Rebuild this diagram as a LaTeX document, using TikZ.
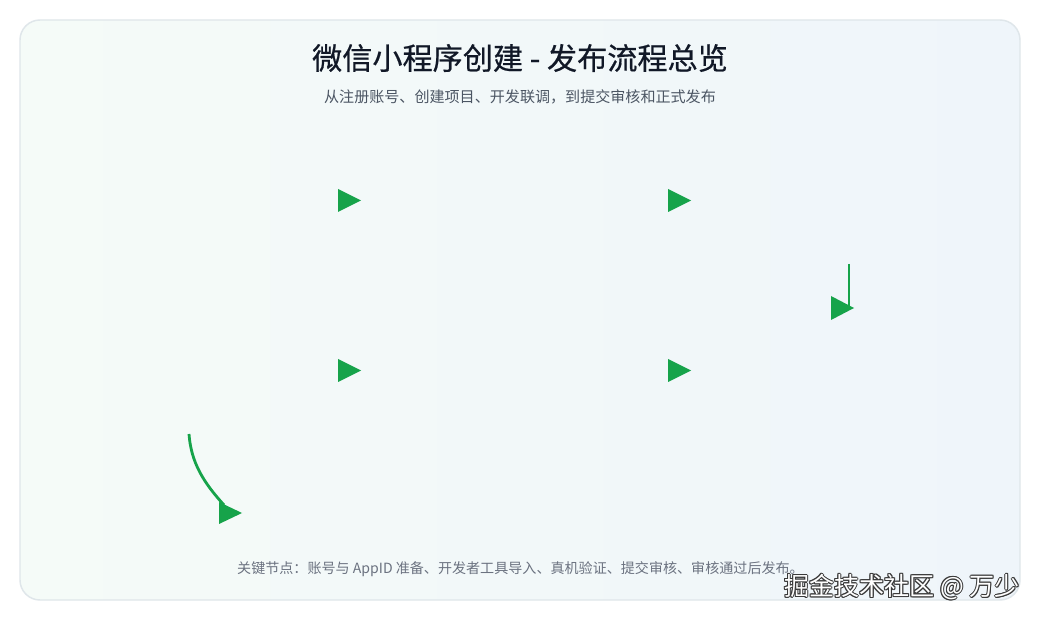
\documentclass[tikz,border=0pt]{standalone}
\usepackage{fontspec}
\newfontfamily\cjk{Noto Sans CJK SC}
\newfontfamily\cjkb[FakeBold=0.6]{Noto Sans CJK SC}
\definecolor{cardL}{HTML}{F5FBF8}
\definecolor{cardR}{HTML}{EFF5FA}
\definecolor{cardB}{HTML}{DFE6EA}
\definecolor{titleC}{HTML}{111827}
\definecolor{subC}{HTML}{4B5563}
\definecolor{footC}{HTML}{6B7280}
\definecolor{grn}{HTML}{16A34A}
\definecolor{wmC}{HTML}{3A3A3A}
\tikzset{
  x=0.75pt, y=-0.75pt,
  head/.style={fill=grn, draw=none},
  wire/.style={draw=grn, line width=2.8pt*0.75},
  wm/.style={font=\cjk\fontsize{18.8}{22}\selectfont, anchor=east, inner sep=0pt},
}
\begin{document}
\begin{tikzpicture}
\useasboundingbox (0,0) rectangle (1040,620);
\fill[white] (0,0) rectangle (1040,620);
\shade[left color=cardL, right color=cardR, rounded corners=15pt] (20,20) rectangle (1020,600);
\draw[cardB, line width=1.1pt, rounded corners=15pt] (20,20) rectangle (1020,600);

\node[font=\cjkb\fontsize{22.6}{27}\selectfont, text=titleC] (title) at (520,58) {微信小程序创建 - 发布流程总览};
\node[font=\cjk\fontsize{11.3}{14}\selectfont, text=subC] (sub) at (520,97) {从注册账号、创建项目、开发联调，到提交审核和正式发布};
\node[font=\cjk\fontsize{10.55}{13}\selectfont, text=footC] (foot) at (520.5,569) {关键节点：账号与 AppID 准备、开发者工具导入、真机验证、提交审核、审核通过后发布。};

% arrowheads
\fill[head] (338,189) -- (361,200.5) -- (338,212) -- cycle;
\fill[head] (668,189) -- (691,200.5) -- (668,212) -- cycle;
\fill[head] (338,359) -- (361,370.5) -- (338,382) -- cycle;
\fill[head] (668,359) -- (691,370.5) -- (668,382) -- cycle;

\coordinate (v1) at (849,264);
\coordinate (v2) at (849,308);
\draw[wire] (v1) -- (v2);
\fill[head] (831,296) -- (854,308) -- (831,320) -- cycle;

\coordinate (c1) at (189,434);
\coordinate (c2) at (224,505);
\draw[wire] (c1) .. controls (191,462) and (203,482) .. (c2);
\fill[head] (219,502) -- (242,513) -- (219,524) -- cycle;

% watermark
\foreach \dx/\dy in {-0.8/0,0.8/0,0/-0.8,0/0.8,-0.6/-0.6,0.6/0.6,-0.6/0.6,0.6/-0.6}
  \node[wm, text=wmC] at (1020+\dx,587+\dy) {掘金技术社区 @ 万少};
\node[wm, text=white] (wm) at (1020,587) {掘金技术社区 @ 万少};
\end{tikzpicture}
\end{document}
